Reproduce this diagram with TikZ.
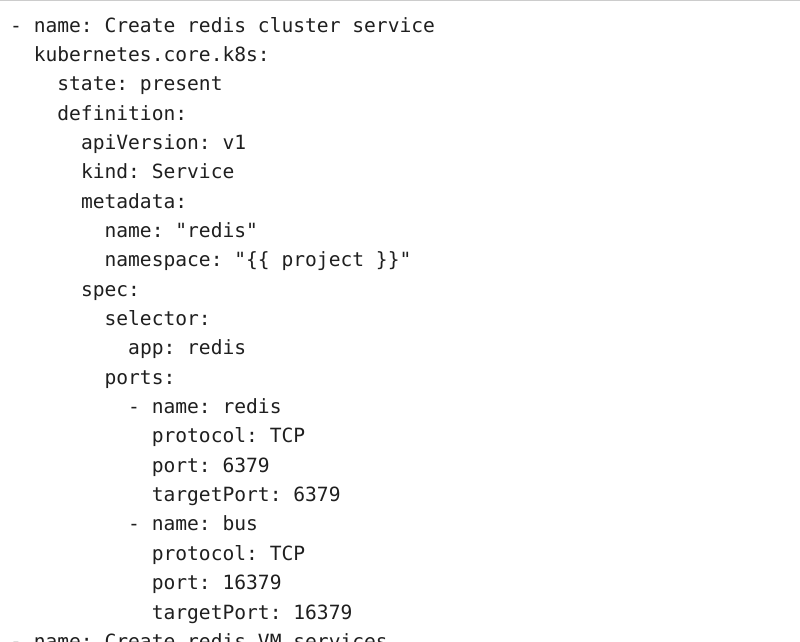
\documentclass[tikz,border=0pt]{standalone}
\usepackage{fontspec}
\setmonofont{DejaVu Sans Mono}
\begin{document}
\begin{tikzpicture}[x=1pt,y=-1pt,
  codeline/.style={anchor=base west,inner sep=0pt,font=\ttfamily\fontsize{19.6}{24}\selectfont,text=black!88}]
\useasboundingbox (0,0) rectangle (800,641);
\clip (0,0) rectangle (800,641);
\fill[white] (0,0) rectangle (800,641);
\draw[black!20,line width=1.5pt] (0,0.5) -- (800,0.5);
\def\cw{11.8}
\foreach \i/\ind/\txt [count=\n from 0] in {
0/0/{- name: Create redis cluster service},
1/2/{kubernetes.core.k8s:},
2/4/{state: present},
3/4/{definition:},
4/6/{apiVersion: v1},
5/6/{kind: Service},
6/6/{metadata:},
7/8/{name: "redis"},
8/8/{namespace: "\{\{ project \}\}"},
9/6/{spec:},
10/8/{selector:},
11/10/{app: redis},
12/8/{ports:},
13/10/{- name: redis},
14/12/{protocol: TCP},
15/12/{port: 6379},
16/12/{targetPort: 6379},
17/10/{- name: bus},
18/12/{protocol: TCP},
19/12/{port: 16379},
20/12/{targetPort: 16379},
21/0/{- name: Create redis VM services}}
  \node[codeline] (l\n) at ({10+\ind*\cw},{32+\i*29.35}) {\txt};
\end{tikzpicture}
\end{document}
